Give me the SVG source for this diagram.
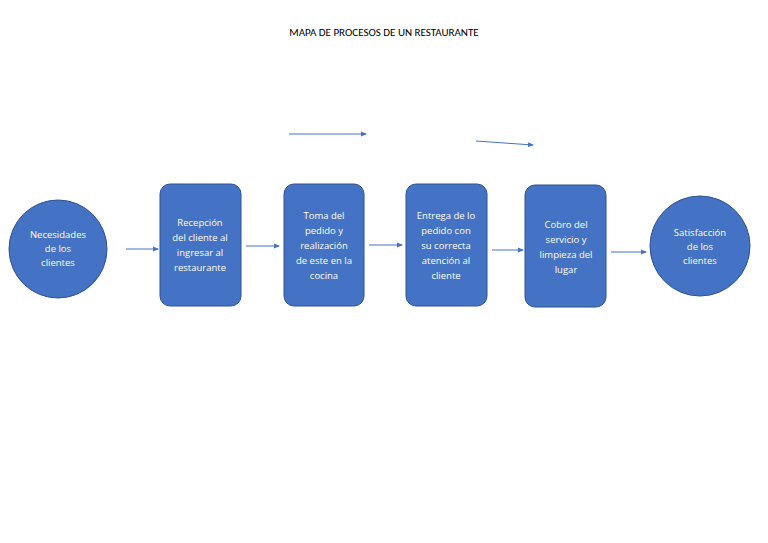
<svg xmlns="http://www.w3.org/2000/svg" width="768" height="543" viewBox="0 0 768 543">
<style>
.n{fill:#4472c4;stroke:#2f528f;stroke-width:1}
.t{font-family:"Open Sans","Liberation Sans",sans-serif;font-size:9.5px;fill:#fff;text-anchor:middle}
.c{stroke:#4472c4;stroke-width:1;fill:none;marker-end:url(#a)}
</style>
<defs><marker id="a" markerWidth="6" markerHeight="6" refX="5" refY="3" orient="auto" markerUnits="userSpaceOnUse"><path d="M0,0.5L6,3L0,5.5z" fill="#4472c4"/></marker></defs>
<rect width="768" height="543" fill="#fff"/>
<text x="384" y="36" font-family="Calibri,'Open Sans','Liberation Sans',sans-serif" font-size="11" text-anchor="middle" fill="#000">MAPA DE PROCESOS DE UN RESTAURANTE</text>
<g id="n1"><circle class="n" cx="58" cy="249" r="49"/><text class="t"><tspan x="58" y="238">Necesidades</tspan><tspan x="58" y="252">de los</tspan><tspan x="58" y="266">clientes</tspan></text></g>
<g id="n2"><rect class="n" x="160" y="184" width="81" height="122" rx="10"/><text class="t"><tspan x="200" y="226">Recepción</tspan><tspan x="200" y="241">del cliente al</tspan><tspan x="200" y="256">ingresar al</tspan><tspan x="200" y="271">restaurante</tspan></text></g>
<g id="n3"><rect class="n" x="284" y="184" width="80" height="122" rx="10"/><text class="t"><tspan x="324" y="219">Toma del</tspan><tspan x="324" y="234">pedido y</tspan><tspan x="324" y="249">realización</tspan><tspan x="324" y="264">de este en la</tspan><tspan x="324" y="279">cocina</tspan></text></g>
<g id="n4"><rect class="n" x="406" y="184" width="81" height="122" rx="10"/><text class="t"><tspan x="446" y="219">Entrega de lo</tspan><tspan x="446" y="234">pedido con</tspan><tspan x="446" y="249">su correcta</tspan><tspan x="446" y="264">atención al</tspan><tspan x="446" y="279">cliente</tspan></text></g>
<g id="n5"><rect class="n" x="525" y="185" width="81" height="122" rx="10"/><text class="t"><tspan x="566" y="228">Cobro del</tspan><tspan x="566" y="243">servicio y</tspan><tspan x="566" y="258">limpieza del</tspan><tspan x="566" y="273">lugar</tspan></text></g>
<g id="n6"><circle class="n" cx="700" cy="246" r="50"/><text class="t"><tspan x="700" y="236">Satisfacción</tspan><tspan x="700" y="250">de los</tspan><tspan x="700" y="264">clientes</tspan></text></g>
<g id="connectors">
<line class="c" x1="126" y1="249" x2="158" y2="249"/>
<line class="c" x1="246" y1="246" x2="279" y2="246"/>
<line class="c" x1="369" y1="245" x2="402" y2="245"/>
<line class="c" x1="492" y1="250" x2="523" y2="250"/>
<line class="c" x1="611" y1="252" x2="646" y2="252"/>
<line class="c" x1="289" y1="134" x2="366" y2="134"/>
<line class="c" x1="476" y1="141" x2="533" y2="145"/>
</g>
</svg>
